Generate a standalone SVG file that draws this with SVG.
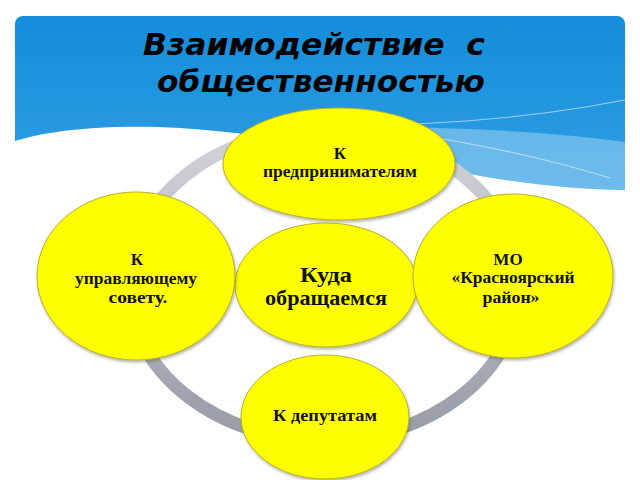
<svg xmlns="http://www.w3.org/2000/svg" width="640" height="480" viewBox="0 0 640 480">
  <defs>
    <linearGradient id="sky" x1="0" y1="0" x2="0" y2="1">
      <stop offset="0" stop-color="#158dda"/>
      <stop offset="0.6" stop-color="#3ea9ea"/>
      <stop offset="1" stop-color="#6cc3f2"/>
    </linearGradient>
    <linearGradient id="ringGrad" x1="0" y1="0" x2="0" y2="1">
      <stop offset="0" stop-color="#d2d4d9"/>
      <stop offset="1" stop-color="#979ba6"/>
    </linearGradient>
    <filter id="shadow" x="-10%" y="-10%" width="125%" height="125%">
      <feDropShadow dx="1" dy="2" stdDeviation="1.5" flood-color="#5a5a40" flood-opacity="0.45"/>
    </filter>
    <style>
      .node { fill: #ffff00; stroke: #b8b02a; stroke-width: 1; filter: url(#shadow); }
      .lbl { font-family: "Liberation Serif", "Times New Roman", serif; font-weight: bold; fill: #111; text-anchor: middle; font-size: 17px; }
      .title { font-family: "DejaVu Sans", Verdana, sans-serif; font-weight: bold; font-style: italic; font-size: 31px; fill: #000; white-space: pre; }
    </style>
  </defs>

  <!-- background -->
  <rect x="0" y="0" width="640" height="480" fill="#ffffff"/>
  <rect x="15" y="16" width="610" height="464" rx="8" fill="url(#sky)"/>
  <path d="M250,130 C400,124 520,128 625,142 L625,190 C580,190 520,184 460,172 C400,160 330,140 250,130 Z" fill="#ffffff" opacity="0.3"/>
  <path d="M300,124 Q470,130 625,100" fill="none" stroke="#ffffff" stroke-width="1" opacity="0.55"/>
  <path d="M400,132 Q520,150 610,178" fill="none" stroke="#ffffff" stroke-width="1" opacity="0.55"/>
  <path d="M15,141 C50,130 110,124 180,128 C300,136 400,160 460,172 C520,184 580,190 625,190 L625,480 L15,480 Z" fill="#ffffff"/>

  <!-- title -->
  <text class="title" x="143" y="55" textLength="342" lengthAdjust="spacingAndGlyphs">Взаимодействие  с</text>
  <text class="title" x="157" y="92" textLength="328" lengthAdjust="spacingAndGlyphs">общественностью</text>

  <!-- connectors: ring -->
  <g id="connectors">
    <ellipse cx="324" cy="285" rx="195.5" ry="155.5" fill="none" stroke="url(#ringGrad)" stroke-width="13"/>
  </g>

  <g id="node-top">
    <ellipse class="node" cx="339" cy="164" rx="116" ry="56"/>
    <text class="lbl" x="340" y="159">К</text>
    <text class="lbl" x="340" y="177" textLength="154" lengthAdjust="spacingAndGlyphs">предпринимателям</text>
  </g>

  <g id="node-center">
    <ellipse class="node" cx="326" cy="285" rx="91" ry="62"/>
    <text class="lbl" x="326" y="282" style="font-size:21px" textLength="52" lengthAdjust="spacingAndGlyphs">Куда</text>
    <text class="lbl" x="326" y="305" style="font-size:21px" textLength="122" lengthAdjust="spacingAndGlyphs">обращаемся</text>
  </g>

  <g id="node-left">
    <ellipse class="node" cx="136" cy="276" rx="99" ry="84"/>
    <text class="lbl" x="137" y="265">К</text>
    <text class="lbl" x="136" y="284" textLength="122" lengthAdjust="spacingAndGlyphs">управляющему</text>
    <text class="lbl" x="138" y="303" textLength="59" lengthAdjust="spacingAndGlyphs">совету.</text>
  </g>

  <g id="node-right">
    <ellipse class="node" cx="513" cy="276" rx="100" ry="82"/>
    <text class="lbl" x="508" y="265">МО</text>
    <text class="lbl" x="513" y="283" textLength="123" lengthAdjust="spacingAndGlyphs">«Красноярский</text>
    <text class="lbl" x="511" y="303" textLength="57" lengthAdjust="spacingAndGlyphs">район»</text>
  </g>

  <g id="node-bottom">
    <ellipse class="node" cx="325" cy="417" rx="84" ry="62"/>
    <text class="lbl" x="325" y="421" textLength="104" lengthAdjust="spacingAndGlyphs">К депутатам</text>
  </g>
</svg>
